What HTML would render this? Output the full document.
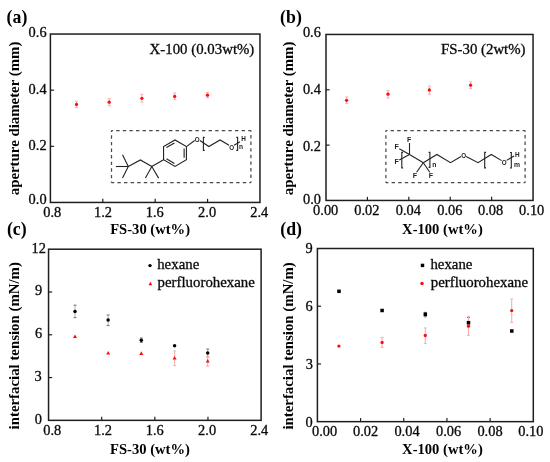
<!DOCTYPE html>
<html><head><meta charset="utf-8"><title>Figure</title>
<style>
html,body{margin:0;padding:0;background:#fff;width:550px;height:462px;overflow:hidden;}
svg{display:block;font-family:'Liberation Serif', 'Times New Roman', serif;}
</style></head>
<body>
<svg width="550" height="462" viewBox="0 0 550 462">
<rect x="0" y="0" width="550" height="462" fill="#fff"/>
<rect x="50.4" y="34.05" width="209.55" height="168.40" fill="none" stroke="#1e1e1e" stroke-width="1.5"/>
<line x1="102.79" y1="202.45" x2="102.79" y2="198.85" stroke="#1e1e1e" stroke-width="1.2"/>
<line x1="155.18" y1="202.45" x2="155.18" y2="198.85" stroke="#1e1e1e" stroke-width="1.2"/>
<line x1="207.56" y1="202.45" x2="207.56" y2="198.85" stroke="#1e1e1e" stroke-width="1.2"/>
<line x1="50.4" y1="146.32" x2="54.0" y2="146.32" stroke="#1e1e1e" stroke-width="1.2"/>
<line x1="50.4" y1="90.18" x2="54.0" y2="90.18" stroke="#1e1e1e" stroke-width="1.2"/>
<text transform="translate(37.60,36.60) scale(1,0.95)" font-size="14.4" text-anchor="middle" font-weight="normal" fill="#0a0a0a"  stroke="#0a0a0a" stroke-width="0.32">0.6</text>
<text transform="translate(37.60,93.50) scale(1,0.95)" font-size="14.4" text-anchor="middle" font-weight="normal" fill="#0a0a0a"  stroke="#0a0a0a" stroke-width="0.32">0.4</text>
<text transform="translate(37.60,150.40) scale(1,0.95)" font-size="14.4" text-anchor="middle" font-weight="normal" fill="#0a0a0a"  stroke="#0a0a0a" stroke-width="0.32">0.2</text>
<text transform="translate(37.60,204.30) scale(1,0.95)" font-size="14.4" text-anchor="middle" font-weight="normal" fill="#0a0a0a"  stroke="#0a0a0a" stroke-width="0.32">0.0</text>
<text transform="translate(52.20,216.60) scale(1,0.95)" font-size="14.4" text-anchor="middle" font-weight="normal" fill="#0a0a0a"  stroke="#0a0a0a" stroke-width="0.32">0.8</text>
<text transform="translate(103.00,216.60) scale(1,0.95)" font-size="14.4" text-anchor="middle" font-weight="normal" fill="#0a0a0a"  stroke="#0a0a0a" stroke-width="0.32">1.2</text>
<text transform="translate(154.70,216.60) scale(1,0.95)" font-size="14.4" text-anchor="middle" font-weight="normal" fill="#0a0a0a"  stroke="#0a0a0a" stroke-width="0.32">1.6</text>
<text transform="translate(207.10,216.60) scale(1,0.95)" font-size="14.4" text-anchor="middle" font-weight="normal" fill="#0a0a0a"  stroke="#0a0a0a" stroke-width="0.32">2.0</text>
<text transform="translate(259.30,216.60) scale(1,0.95)" font-size="14.4" text-anchor="middle" font-weight="normal" fill="#0a0a0a"  stroke="#0a0a0a" stroke-width="0.32">2.4</text>
<line x1="76.50" y1="101.30" x2="76.50" y2="107.50" stroke="#f3b0b4" stroke-width="1.1"/>
<line x1="75.00" y1="101.30" x2="78.00" y2="101.30" stroke="#f5b4b9" stroke-width="1.1"/>
<line x1="75.00" y1="107.50" x2="78.00" y2="107.50" stroke="#f5b4b9" stroke-width="1.1"/>
<line x1="109.20" y1="98.60" x2="109.20" y2="105.70" stroke="#f3b0b4" stroke-width="1.1"/>
<line x1="107.70" y1="98.60" x2="110.70" y2="98.60" stroke="#f5b4b9" stroke-width="1.1"/>
<line x1="107.70" y1="105.70" x2="110.70" y2="105.70" stroke="#f5b4b9" stroke-width="1.1"/>
<line x1="141.90" y1="94.30" x2="141.90" y2="102.10" stroke="#f3b0b4" stroke-width="1.1"/>
<line x1="140.40" y1="94.30" x2="143.40" y2="94.30" stroke="#f5b4b9" stroke-width="1.1"/>
<line x1="140.40" y1="102.10" x2="143.40" y2="102.10" stroke="#f5b4b9" stroke-width="1.1"/>
<line x1="174.70" y1="93.10" x2="174.70" y2="99.60" stroke="#f3b0b4" stroke-width="1.1"/>
<line x1="173.20" y1="93.10" x2="176.20" y2="93.10" stroke="#f5b4b9" stroke-width="1.1"/>
<line x1="173.20" y1="99.60" x2="176.20" y2="99.60" stroke="#f5b4b9" stroke-width="1.1"/>
<line x1="207.50" y1="92.50" x2="207.50" y2="97.80" stroke="#f3b0b4" stroke-width="1.1"/>
<line x1="206.00" y1="92.50" x2="209.00" y2="92.50" stroke="#f5b4b9" stroke-width="1.1"/>
<line x1="206.00" y1="97.80" x2="209.00" y2="97.80" stroke="#f5b4b9" stroke-width="1.1"/>
<circle cx="76.50" cy="104.40" r="1.65" fill="#ff0d0d"/>
<circle cx="109.20" cy="102.20" r="1.65" fill="#ff0d0d"/>
<circle cx="141.90" cy="98.35" r="1.65" fill="#ff0d0d"/>
<circle cx="174.70" cy="96.40" r="1.65" fill="#ff0d0d"/>
<circle cx="207.50" cy="95.20" r="1.65" fill="#ff0d0d"/>
<rect x="326.0" y="34.45" width="207.05" height="166.00" fill="none" stroke="#1e1e1e" stroke-width="1.5"/>
<line x1="367.41" y1="200.45" x2="367.41" y2="196.85" stroke="#1e1e1e" stroke-width="1.2"/>
<line x1="408.82" y1="200.45" x2="408.82" y2="196.85" stroke="#1e1e1e" stroke-width="1.2"/>
<line x1="450.23" y1="200.45" x2="450.23" y2="196.85" stroke="#1e1e1e" stroke-width="1.2"/>
<line x1="491.64" y1="200.45" x2="491.64" y2="196.85" stroke="#1e1e1e" stroke-width="1.2"/>
<line x1="326.0" y1="145.12" x2="329.6" y2="145.12" stroke="#1e1e1e" stroke-width="1.2"/>
<line x1="326.0" y1="89.78" x2="329.6" y2="89.78" stroke="#1e1e1e" stroke-width="1.2"/>
<text transform="translate(311.90,36.80) scale(1,0.95)" font-size="14.4" text-anchor="middle" font-weight="normal" fill="#0a0a0a"  stroke="#0a0a0a" stroke-width="0.32">0.6</text>
<text transform="translate(311.90,93.50) scale(1,0.95)" font-size="14.4" text-anchor="middle" font-weight="normal" fill="#0a0a0a"  stroke="#0a0a0a" stroke-width="0.32">0.4</text>
<text transform="translate(311.90,150.70) scale(1,0.95)" font-size="14.4" text-anchor="middle" font-weight="normal" fill="#0a0a0a"  stroke="#0a0a0a" stroke-width="0.32">0.2</text>
<text transform="translate(312.00,204.40) scale(1,0.95)" font-size="14.4" text-anchor="middle" font-weight="normal" fill="#0a0a0a"  stroke="#0a0a0a" stroke-width="0.32">0.0</text>
<text transform="translate(325.70,215.40) scale(1,0.95)" font-size="14.4" text-anchor="middle" font-weight="normal" fill="#0a0a0a"  stroke="#0a0a0a" stroke-width="0.32">0.00</text>
<text transform="translate(366.90,215.40) scale(1,0.95)" font-size="14.4" text-anchor="middle" font-weight="normal" fill="#0a0a0a"  stroke="#0a0a0a" stroke-width="0.32">0.02</text>
<text transform="translate(408.40,215.40) scale(1,0.95)" font-size="14.4" text-anchor="middle" font-weight="normal" fill="#0a0a0a"  stroke="#0a0a0a" stroke-width="0.32">0.04</text>
<text transform="translate(449.80,215.40) scale(1,0.95)" font-size="14.4" text-anchor="middle" font-weight="normal" fill="#0a0a0a"  stroke="#0a0a0a" stroke-width="0.32">0.06</text>
<text transform="translate(490.60,215.40) scale(1,0.95)" font-size="14.4" text-anchor="middle" font-weight="normal" fill="#0a0a0a"  stroke="#0a0a0a" stroke-width="0.32">0.08</text>
<text transform="translate(531.70,215.40) scale(1,0.95)" font-size="14.4" text-anchor="middle" font-weight="normal" fill="#0a0a0a"  stroke="#0a0a0a" stroke-width="0.32">0.10</text>
<line x1="346.60" y1="97.00" x2="346.60" y2="103.50" stroke="#f3b0b4" stroke-width="1.1"/>
<line x1="345.10" y1="97.00" x2="348.10" y2="97.00" stroke="#f5b4b9" stroke-width="1.1"/>
<line x1="345.10" y1="103.50" x2="348.10" y2="103.50" stroke="#f5b4b9" stroke-width="1.1"/>
<line x1="388.00" y1="90.50" x2="388.00" y2="98.10" stroke="#f3b0b4" stroke-width="1.1"/>
<line x1="386.50" y1="90.50" x2="389.50" y2="90.50" stroke="#f5b4b9" stroke-width="1.1"/>
<line x1="386.50" y1="98.10" x2="389.50" y2="98.10" stroke="#f5b4b9" stroke-width="1.1"/>
<line x1="429.40" y1="86.00" x2="429.40" y2="94.20" stroke="#f3b0b4" stroke-width="1.1"/>
<line x1="427.90" y1="86.00" x2="430.90" y2="86.00" stroke="#f5b4b9" stroke-width="1.1"/>
<line x1="427.90" y1="94.20" x2="430.90" y2="94.20" stroke="#f5b4b9" stroke-width="1.1"/>
<line x1="470.60" y1="81.90" x2="470.60" y2="88.50" stroke="#f3b0b4" stroke-width="1.1"/>
<line x1="469.10" y1="81.90" x2="472.10" y2="81.90" stroke="#f5b4b9" stroke-width="1.1"/>
<line x1="469.10" y1="88.50" x2="472.10" y2="88.50" stroke="#f5b4b9" stroke-width="1.1"/>
<circle cx="346.60" cy="100.30" r="1.65" fill="#ff0d0d"/>
<circle cx="388.00" cy="94.20" r="1.65" fill="#ff0d0d"/>
<circle cx="429.40" cy="90.00" r="1.65" fill="#ff0d0d"/>
<circle cx="470.60" cy="85.20" r="1.65" fill="#ff0d0d"/>
<rect x="48.55" y="249.2" width="212.55" height="171.15" fill="none" stroke="#1e1e1e" stroke-width="1.5"/>
<line x1="101.69" y1="420.35" x2="101.69" y2="416.75" stroke="#1e1e1e" stroke-width="1.2"/>
<line x1="154.83" y1="420.35" x2="154.83" y2="416.75" stroke="#1e1e1e" stroke-width="1.2"/>
<line x1="207.96" y1="420.35" x2="207.96" y2="416.75" stroke="#1e1e1e" stroke-width="1.2"/>
<line x1="48.55" y1="377.56" x2="52.15" y2="377.56" stroke="#1e1e1e" stroke-width="1.2"/>
<line x1="48.55" y1="334.77" x2="52.15" y2="334.77" stroke="#1e1e1e" stroke-width="1.2"/>
<line x1="48.55" y1="291.99" x2="52.15" y2="291.99" stroke="#1e1e1e" stroke-width="1.2"/>
<text transform="translate(38.80,252.90) scale(1,0.95)" font-size="14.4" text-anchor="middle" font-weight="normal" fill="#0a0a0a"  stroke="#0a0a0a" stroke-width="0.32">12</text>
<text transform="translate(38.60,295.10) scale(1,0.95)" font-size="14.4" text-anchor="middle" font-weight="normal" fill="#0a0a0a"  stroke="#0a0a0a" stroke-width="0.32">9</text>
<text transform="translate(38.70,338.40) scale(1,0.95)" font-size="14.4" text-anchor="middle" font-weight="normal" fill="#0a0a0a"  stroke="#0a0a0a" stroke-width="0.32">6</text>
<text transform="translate(38.20,381.40) scale(1,0.95)" font-size="14.4" text-anchor="middle" font-weight="normal" fill="#0a0a0a"  stroke="#0a0a0a" stroke-width="0.32">3</text>
<text transform="translate(38.30,424.30) scale(1,0.95)" font-size="14.4" text-anchor="middle" font-weight="normal" fill="#0a0a0a"  stroke="#0a0a0a" stroke-width="0.32">0</text>
<text transform="translate(52.20,434.70) scale(1,0.95)" font-size="14.4" text-anchor="middle" font-weight="normal" fill="#0a0a0a"  stroke="#0a0a0a" stroke-width="0.32">0.8</text>
<text transform="translate(103.00,434.70) scale(1,0.95)" font-size="14.4" text-anchor="middle" font-weight="normal" fill="#0a0a0a"  stroke="#0a0a0a" stroke-width="0.32">1.2</text>
<text transform="translate(154.70,434.70) scale(1,0.95)" font-size="14.4" text-anchor="middle" font-weight="normal" fill="#0a0a0a"  stroke="#0a0a0a" stroke-width="0.32">1.6</text>
<text transform="translate(207.10,434.70) scale(1,0.95)" font-size="14.4" text-anchor="middle" font-weight="normal" fill="#0a0a0a"  stroke="#0a0a0a" stroke-width="0.32">2.0</text>
<text transform="translate(259.30,434.70) scale(1,0.95)" font-size="14.4" text-anchor="middle" font-weight="normal" fill="#0a0a0a"  stroke="#0a0a0a" stroke-width="0.32">2.4</text>
<line x1="75.00" y1="305.20" x2="75.00" y2="317.60" stroke="#b5b5b5" stroke-width="1.1"/>
<line x1="73.50" y1="305.20" x2="76.50" y2="305.20" stroke="#7a7a7a" stroke-width="1.1"/>
<line x1="73.50" y1="317.60" x2="76.50" y2="317.60" stroke="#7a7a7a" stroke-width="1.1"/>
<line x1="108.10" y1="315.00" x2="108.10" y2="325.50" stroke="#b5b5b5" stroke-width="1.1"/>
<line x1="106.60" y1="315.00" x2="109.60" y2="315.00" stroke="#7a7a7a" stroke-width="1.1"/>
<line x1="106.60" y1="325.50" x2="109.60" y2="325.50" stroke="#7a7a7a" stroke-width="1.1"/>
<line x1="141.30" y1="338.00" x2="141.30" y2="342.40" stroke="#b5b5b5" stroke-width="1.1"/>
<line x1="139.80" y1="338.00" x2="142.80" y2="338.00" stroke="#7a7a7a" stroke-width="1.1"/>
<line x1="139.80" y1="342.40" x2="142.80" y2="342.40" stroke="#7a7a7a" stroke-width="1.1"/>
<line x1="207.70" y1="349.10" x2="207.70" y2="356.70" stroke="#b5b5b5" stroke-width="1.1"/>
<line x1="206.20" y1="349.10" x2="209.20" y2="349.10" stroke="#7a7a7a" stroke-width="1.1"/>
<line x1="206.20" y1="356.70" x2="209.20" y2="356.70" stroke="#7a7a7a" stroke-width="1.1"/>
<line x1="174.60" y1="351.00" x2="174.60" y2="365.60" stroke="#f3b0b4" stroke-width="1.1"/>
<line x1="173.10" y1="351.00" x2="176.10" y2="351.00" stroke="#f5b4b9" stroke-width="1.1"/>
<line x1="173.10" y1="365.60" x2="176.10" y2="365.60" stroke="#f5b4b9" stroke-width="1.1"/>
<line x1="207.70" y1="356.70" x2="207.70" y2="366.30" stroke="#f3b0b4" stroke-width="1.1"/>
<line x1="206.20" y1="356.70" x2="209.20" y2="356.70" stroke="#f5b4b9" stroke-width="1.1"/>
<line x1="206.20" y1="366.30" x2="209.20" y2="366.30" stroke="#f5b4b9" stroke-width="1.1"/>
<circle cx="75.00" cy="311.50" r="1.75" fill="#000"/>
<circle cx="108.10" cy="320.10" r="1.75" fill="#000"/>
<circle cx="141.30" cy="340.20" r="1.75" fill="#000"/>
<circle cx="174.60" cy="345.70" r="1.75" fill="#000"/>
<circle cx="207.70" cy="352.90" r="1.75" fill="#000"/>
<polygon points="75.00,334.40 77.00,338.00 73.00,338.00" fill="#ff0d0d"/>
<polygon points="108.20,350.90 110.20,354.50 106.20,354.50" fill="#ff0d0d"/>
<polygon points="141.30,351.30 143.30,354.90 139.30,354.90" fill="#ff0d0d"/>
<polygon points="174.60,355.90 176.60,359.50 172.60,359.50" fill="#ff0d0d"/>
<polygon points="207.70,359.00 209.70,362.60 205.70,362.60" fill="#ff0d0d"/>
<circle cx="150.00" cy="265.60" r="1.7" fill="#000"/>
<polygon points="150.40,281.80 152.30,285.20 148.50,285.20" fill="#ff0d0d"/>
<text transform="translate(157.20,269.20) scale(1,0.94)" font-size="14.85" text-anchor="start" font-weight="normal" fill="#0a0a0a"  stroke="#0a0a0a" stroke-width="0.32">hexane</text>
<text transform="translate(157.60,286.90) scale(1,0.94)" font-size="14.85" text-anchor="start" font-weight="normal" fill="#0a0a0a"  stroke="#0a0a0a" stroke-width="0.32">perfluorohexane</text>
<rect x="317.4" y="248.5" width="215.90" height="173.15" fill="none" stroke="#1e1e1e" stroke-width="1.5"/>
<line x1="360.58" y1="421.65" x2="360.58" y2="418.04999999999995" stroke="#1e1e1e" stroke-width="1.2"/>
<line x1="403.76" y1="421.65" x2="403.76" y2="418.04999999999995" stroke="#1e1e1e" stroke-width="1.2"/>
<line x1="446.94" y1="421.65" x2="446.94" y2="418.04999999999995" stroke="#1e1e1e" stroke-width="1.2"/>
<line x1="490.12" y1="421.65" x2="490.12" y2="418.04999999999995" stroke="#1e1e1e" stroke-width="1.2"/>
<line x1="317.4" y1="363.93" x2="321.0" y2="363.93" stroke="#1e1e1e" stroke-width="1.2"/>
<line x1="317.4" y1="306.22" x2="321.0" y2="306.22" stroke="#1e1e1e" stroke-width="1.2"/>
<text transform="translate(309.10,253.40) scale(1,0.95)" font-size="14.4" text-anchor="middle" font-weight="normal" fill="#0a0a0a"  stroke="#0a0a0a" stroke-width="0.32">9</text>
<text transform="translate(309.10,311.30) scale(1,0.95)" font-size="14.4" text-anchor="middle" font-weight="normal" fill="#0a0a0a"  stroke="#0a0a0a" stroke-width="0.32">6</text>
<text transform="translate(309.30,369.00) scale(1,0.95)" font-size="14.4" text-anchor="middle" font-weight="normal" fill="#0a0a0a"  stroke="#0a0a0a" stroke-width="0.32">3</text>
<text transform="translate(309.10,426.60) scale(1,0.95)" font-size="14.4" text-anchor="middle" font-weight="normal" fill="#0a0a0a"  stroke="#0a0a0a" stroke-width="0.32">0</text>
<text transform="translate(324.60,436.40) scale(1,0.95)" font-size="14.4" text-anchor="middle" font-weight="normal" fill="#0a0a0a"  stroke="#0a0a0a" stroke-width="0.32">0.00</text>
<text transform="translate(365.60,436.40) scale(1,0.95)" font-size="14.4" text-anchor="middle" font-weight="normal" fill="#0a0a0a"  stroke="#0a0a0a" stroke-width="0.32">0.02</text>
<text transform="translate(407.00,436.40) scale(1,0.95)" font-size="14.4" text-anchor="middle" font-weight="normal" fill="#0a0a0a"  stroke="#0a0a0a" stroke-width="0.32">0.04</text>
<text transform="translate(448.60,436.40) scale(1,0.95)" font-size="14.4" text-anchor="middle" font-weight="normal" fill="#0a0a0a"  stroke="#0a0a0a" stroke-width="0.32">0.06</text>
<text transform="translate(490.00,436.40) scale(1,0.95)" font-size="14.4" text-anchor="middle" font-weight="normal" fill="#0a0a0a"  stroke="#0a0a0a" stroke-width="0.32">0.08</text>
<text transform="translate(530.80,436.40) scale(1,0.95)" font-size="14.4" text-anchor="middle" font-weight="normal" fill="#0a0a0a"  stroke="#0a0a0a" stroke-width="0.32">0.10</text>
<line x1="425.30" y1="312.40" x2="425.30" y2="316.80" stroke="#b5b5b5" stroke-width="1.1"/>
<line x1="423.80" y1="312.40" x2="426.80" y2="312.40" stroke="#7a7a7a" stroke-width="1.1"/>
<line x1="423.80" y1="316.80" x2="426.80" y2="316.80" stroke="#7a7a7a" stroke-width="1.1"/>
<line x1="468.50" y1="317.50" x2="468.50" y2="325.00" stroke="#b5b5b5" stroke-width="1.1"/>
<line x1="467.00" y1="317.50" x2="470.00" y2="317.50" stroke="#7a7a7a" stroke-width="1.1"/>
<line x1="467.00" y1="325.00" x2="470.00" y2="325.00" stroke="#7a7a7a" stroke-width="1.1"/>
<line x1="382.10" y1="337.40" x2="382.10" y2="347.40" stroke="#f3b0b4" stroke-width="1.1"/>
<line x1="380.60" y1="337.40" x2="383.60" y2="337.40" stroke="#f5b4b9" stroke-width="1.1"/>
<line x1="380.60" y1="347.40" x2="383.60" y2="347.40" stroke="#f5b4b9" stroke-width="1.1"/>
<line x1="425.30" y1="327.90" x2="425.30" y2="343.50" stroke="#f3b0b4" stroke-width="1.1"/>
<line x1="423.80" y1="327.90" x2="426.80" y2="327.90" stroke="#f5b4b9" stroke-width="1.1"/>
<line x1="423.80" y1="343.50" x2="426.80" y2="343.50" stroke="#f5b4b9" stroke-width="1.1"/>
<line x1="468.50" y1="316.30" x2="468.50" y2="335.30" stroke="#f3b0b4" stroke-width="1.1"/>
<line x1="467.00" y1="316.30" x2="470.00" y2="316.30" stroke="#f5b4b9" stroke-width="1.1"/>
<line x1="467.00" y1="335.30" x2="470.00" y2="335.30" stroke="#f5b4b9" stroke-width="1.1"/>
<line x1="511.70" y1="299.00" x2="511.70" y2="322.50" stroke="#f3b0b4" stroke-width="1.1"/>
<line x1="510.20" y1="299.00" x2="513.20" y2="299.00" stroke="#f5b4b9" stroke-width="1.1"/>
<line x1="510.20" y1="322.50" x2="513.20" y2="322.50" stroke="#f5b4b9" stroke-width="1.1"/>
<rect x="337.25" y="289.55" width="3.5" height="3.5" fill="#000"/>
<rect x="380.35" y="308.75" width="3.5" height="3.5" fill="#000"/>
<rect x="423.55" y="312.55" width="3.5" height="3.5" fill="#000"/>
<rect x="466.75" y="320.95" width="3.5" height="3.5" fill="#000"/>
<rect x="510.05" y="329.25" width="3.5" height="3.5" fill="#000"/>
<circle cx="338.90" cy="346.10" r="1.65" fill="#ff0d0d"/>
<circle cx="382.10" cy="342.50" r="1.65" fill="#ff0d0d"/>
<circle cx="425.30" cy="335.50" r="1.65" fill="#ff0d0d"/>
<circle cx="468.50" cy="326.20" r="1.65" fill="#ff0d0d"/>
<circle cx="511.70" cy="310.60" r="1.65" fill="#ff0d0d"/>
<rect x="420.80" y="263.70" width="3.4" height="3.4" fill="#000"/>
<circle cx="422.00" cy="283.40" r="1.75" fill="#ff0d0d"/>
<text transform="translate(430.40,269.20) scale(1,0.94)" font-size="14.85" text-anchor="start" font-weight="normal" fill="#0a0a0a"  stroke="#0a0a0a" stroke-width="0.32">hexane</text>
<text transform="translate(430.80,286.90) scale(1,0.94)" font-size="14.85" text-anchor="start" font-weight="normal" fill="#0a0a0a"  stroke="#0a0a0a" stroke-width="0.32">perfluorohexane</text>
<text transform="translate(149.60,54.00) scale(1,0.94)" font-size="14.85" text-anchor="start" font-weight="normal" fill="#0a0a0a"  stroke="#0a0a0a" stroke-width="0.32">X-100 (0.03wt%)</text>
<text transform="translate(441.00,54.00) scale(1,0.94)" font-size="14.85" text-anchor="start" font-weight="normal" fill="#0a0a0a"  stroke="#0a0a0a" stroke-width="0.32">FS-30 (2wt%)</text>
<text x="6.60" y="23.30" font-size="17.8" text-anchor="start" font-weight="bold" fill="#000" >(a)</text>
<text x="280.10" y="23.30" font-size="17.8" text-anchor="start" font-weight="bold" fill="#000" >(b)</text>
<text x="6.90" y="235.20" font-size="17.8" text-anchor="start" font-weight="bold" fill="#000" >(c)</text>
<text x="280.30" y="235.20" font-size="17.8" text-anchor="start" font-weight="bold" fill="#000" >(d)</text>
<text x="110.20" y="233.80" font-size="14.6" text-anchor="start" font-weight="bold" fill="#000" >FS-30 (wt%)</text>
<text x="402.10" y="233.80" font-size="14.6" text-anchor="start" font-weight="bold" fill="#000" >X-100 (wt%)</text>
<text x="110.00" y="454.00" font-size="14.6" text-anchor="start" font-weight="bold" fill="#000" >FS-30 (wt%)</text>
<text x="402.10" y="454.00" font-size="14.6" text-anchor="start" font-weight="bold" fill="#000" >X-100 (wt%)</text>
<text x="0" y="0" font-size="14.85" font-weight="bold" text-anchor="middle" fill="#000" transform="translate(18.6,118.45) rotate(-90)">aperture diameter (mm)</text>
<text x="0" y="0" font-size="14.85" font-weight="bold" text-anchor="middle" fill="#000" transform="translate(293.1,118.45) rotate(-90)">aperture diameter (mm)</text>
<text x="0" y="0" font-size="14.85" font-weight="bold" text-anchor="middle" fill="#000" transform="translate(18.6,345.75) rotate(-90)">interfacial tension (mN/m)</text>
<text x="0" y="0" font-size="14.85" font-weight="bold" text-anchor="middle" fill="#000" transform="translate(293.1,345.9) rotate(-90)">interfacial tension (mN/m)</text>
<path d="M111.5,130.6H250.9" stroke="#4a4a4a" stroke-width="1.25" stroke-dasharray="3.4 3.2" stroke-dashoffset="1.9" fill="none"/>
<path d="M111.5,130.6V182.7" stroke="#4a4a4a" stroke-width="1.25" stroke-dasharray="3.4 3.2" stroke-dashoffset="1.9" fill="none"/>
<path d="M250.9,182.7H111.5" stroke="#4a4a4a" stroke-width="1.25" stroke-dasharray="3.4 3.2" stroke-dashoffset="1.9" fill="none"/>
<path d="M250.9,182.7V130.6" stroke="#4a4a4a" stroke-width="1.25" stroke-dasharray="3.4 3.2" stroke-dashoffset="1.9" fill="none"/>
<path d="M385.9,130.6H525.1" stroke="#4a4a4a" stroke-width="1.25" stroke-dasharray="3.4 3.2" stroke-dashoffset="1.9" fill="none"/>
<path d="M385.9,130.6V182.7" stroke="#4a4a4a" stroke-width="1.25" stroke-dasharray="3.4 3.2" stroke-dashoffset="1.9" fill="none"/>
<path d="M525.1,182.7H385.9" stroke="#4a4a4a" stroke-width="1.25" stroke-dasharray="3.4 3.2" stroke-dashoffset="1.9" fill="none"/>
<path d="M525.1,182.7V130.6" stroke="#4a4a4a" stroke-width="1.25" stroke-dasharray="3.4 3.2" stroke-dashoffset="1.9" fill="none"/>
<polyline points="115.90,166.50 128.30,166.50" fill="none" stroke="#222" stroke-width="1.1" stroke-linejoin="miter"/>
<polyline points="122.50,154.80 128.30,166.50 122.50,178.10" fill="none" stroke="#222" stroke-width="1.1" stroke-linejoin="miter"/>
<polyline points="128.30,166.50 140.40,159.90 151.80,166.50" fill="none" stroke="#222" stroke-width="1.1" stroke-linejoin="miter"/>
<polyline points="145.40,178.10 151.80,166.50 158.60,178.10" fill="none" stroke="#222" stroke-width="1.1" stroke-linejoin="miter"/>
<polyline points="151.80,166.50 163.57,159.80" fill="none" stroke="#222" stroke-width="1.1" stroke-linejoin="miter"/>
<polygon points="163.57,159.80 163.57,146.60 175.00,140.00 186.43,146.60 186.43,159.80 175.00,166.40" fill="none" stroke="#222" stroke-width="1.1"/>
<polyline points="166.45,147.59 174.42,142.99" fill="none" stroke="#222" stroke-width="1.1" stroke-linejoin="miter"/>
<polyline points="184.13,148.60 184.13,157.80" fill="none" stroke="#222" stroke-width="1.1" stroke-linejoin="miter"/>
<polyline points="174.42,163.41 166.45,158.81" fill="none" stroke="#222" stroke-width="1.1" stroke-linejoin="miter"/>
<polyline points="186.43,146.60 194.70,140.50" fill="none" stroke="#222" stroke-width="1.1" stroke-linejoin="miter"/>
<text x="0" y="0" font-family="'Liberation Sans', Arial, sans-serif" font-size="7.4" font-weight="bold" text-anchor="middle" fill="#222" transform="translate(197.30,141.70) scale(0.85,1)">O</text>
<polyline points="199.90,140.50 208.80,146.50 220.10,140.00 229.00,145.20" fill="none" stroke="#222" stroke-width="1.1" stroke-linejoin="miter"/>
<text x="0" y="0" font-family="'Liberation Sans', Arial, sans-serif" font-size="7.4" font-weight="bold" text-anchor="middle" fill="#222" transform="translate(231.60,149.50) scale(0.85,1)">O</text>
<polyline points="234.10,145.30 240.00,141.80" fill="none" stroke="#222" stroke-width="1.1" stroke-linejoin="miter"/>
<polyline points="204.70,137.40 203.40,137.40 203.40,150.40 204.70,150.40" fill="none" stroke="#222" stroke-width="1.1" stroke-linejoin="miter"/>
<polyline points="236.30,137.40 237.60,137.40 237.60,150.40 236.30,150.40" fill="none" stroke="#222" stroke-width="1.1" stroke-linejoin="miter"/>
<text x="243.50" y="141.30" font-family="'Liberation Sans', Arial, sans-serif" font-size="6.4" font-weight="bold" text-anchor="middle" fill="#222">H</text>
<text x="241.00" y="149.40" font-family="'Liberation Sans', Arial, sans-serif" font-size="6.6" font-weight="bold" text-anchor="middle" fill="#222">n</text>
<polyline points="409.50,143.00 409.50,154.50" fill="none" stroke="#222" stroke-width="1.1" stroke-linejoin="miter"/>
<polyline points="399.30,148.80 409.50,154.50" fill="none" stroke="#222" stroke-width="1.1" stroke-linejoin="miter"/>
<polyline points="399.30,160.00 409.50,154.50" fill="none" stroke="#222" stroke-width="1.1" stroke-linejoin="miter"/>
<text x="409.20" y="141.80" font-family="'Liberation Sans', Arial, sans-serif" font-size="7.0" font-weight="bold" text-anchor="middle" fill="#222">F</text>
<text x="396.60" y="149.00" font-family="'Liberation Sans', Arial, sans-serif" font-size="7.0" font-weight="bold" text-anchor="middle" fill="#222">F</text>
<text x="396.60" y="164.40" font-family="'Liberation Sans', Arial, sans-serif" font-size="7.0" font-weight="bold" text-anchor="middle" fill="#222">F</text>
<polyline points="409.50,154.50 423.30,162.70" fill="none" stroke="#222" stroke-width="1.1" stroke-linejoin="miter"/>
<polyline points="423.30,162.70 416.60,172.20" fill="none" stroke="#222" stroke-width="1.1" stroke-linejoin="miter"/>
<polyline points="423.30,162.70 429.80,172.20" fill="none" stroke="#222" stroke-width="1.1" stroke-linejoin="miter"/>
<text x="414.90" y="177.60" font-family="'Liberation Sans', Arial, sans-serif" font-size="7.0" font-weight="bold" text-anchor="middle" fill="#222">F</text>
<text x="431.00" y="177.60" font-family="'Liberation Sans', Arial, sans-serif" font-size="7.0" font-weight="bold" text-anchor="middle" fill="#222">F</text>
<polyline points="423.30,162.70 436.90,154.50 450.50,162.70 461.00,156.50" fill="none" stroke="#222" stroke-width="1.1" stroke-linejoin="miter"/>
<text x="0" y="0" font-family="'Liberation Sans', Arial, sans-serif" font-size="7.4" font-weight="bold" text-anchor="middle" fill="#222" transform="translate(463.60,157.60) scale(0.85,1)">O</text>
<polyline points="466.20,156.50 478.00,162.70 491.30,154.50 501.60,160.60" fill="none" stroke="#222" stroke-width="1.1" stroke-linejoin="miter"/>
<text x="0" y="0" font-family="'Liberation Sans', Arial, sans-serif" font-size="7.4" font-weight="bold" text-anchor="middle" fill="#222" transform="translate(504.10,164.50) scale(0.85,1)">O</text>
<polyline points="506.60,160.40 514.00,156.00" fill="none" stroke="#222" stroke-width="1.1" stroke-linejoin="miter"/>
<polyline points="403.10,152.40 401.80,152.40 401.80,167.90 403.10,167.90" fill="none" stroke="#222" stroke-width="1.1" stroke-linejoin="miter"/>
<polyline points="428.60,152.40 429.90,152.40 429.90,167.40 428.60,167.40" fill="none" stroke="#222" stroke-width="1.1" stroke-linejoin="miter"/>
<polyline points="486.00,152.40 484.70,152.40 484.70,167.90 486.00,167.90" fill="none" stroke="#222" stroke-width="1.1" stroke-linejoin="miter"/>
<polyline points="510.00,152.50 511.30,152.50 511.30,168.00 510.00,168.00" fill="none" stroke="#222" stroke-width="1.1" stroke-linejoin="miter"/>
<text x="434.30" y="167.40" font-family="'Liberation Sans', Arial, sans-serif" font-size="6.8" font-weight="bold" text-anchor="middle" fill="#222">n</text>
<text x="517.30" y="157.00" font-family="'Liberation Sans', Arial, sans-serif" font-size="6.4" font-weight="bold" text-anchor="middle" fill="#222">H</text>
<text x="517.00" y="167.40" font-family="'Liberation Sans', Arial, sans-serif" font-size="6.8" font-weight="bold" text-anchor="middle" fill="#222">m</text>
</svg>
</body></html>
